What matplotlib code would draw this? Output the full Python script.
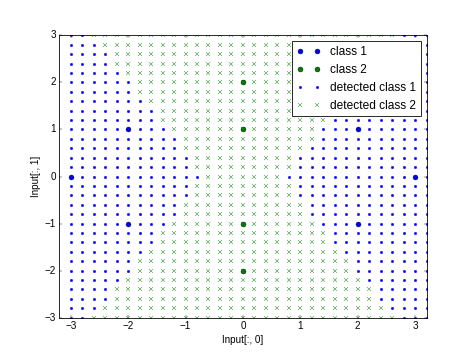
import numpy as np
import matplotlib
matplotlib.use('Agg')
import matplotlib.pyplot as plt

plt.style.use('classic')
plt.rcParams['font.family'] = ['Liberation Sans', 'DejaVu Sans']

# training points
class1_x = [-3, -2, -2, 2, 2, 3]
class1_y = [0, 1, -1, 1, -1, 0]
class2_x = [0, 0, 0, 0]
class2_y = [2, 1, -1, -2]

# evaluation grid
grid_x = [-3.0, -2.8, -2.6, -2.4, -2.2, -2.0, -1.8, -1.6, -1.4, -1.2, -1.0,
          -0.8, -0.6, -0.4, -0.2, 0.0, 0.2, 0.4, 0.6, 0.8, 1.0, 1.2, 1.4,
          1.6, 1.8, 2.0, 2.2, 2.4, 2.6, 2.8, 3.0, 3.2]
grid_y = [3.0, 2.8, 2.6, 2.4, 2.2, 2.0, 1.8, 1.6, 1.4, 1.2, 1.0, 0.8, 0.6,
          0.4, 0.2, 0.0, -0.2, -0.4, -0.6, -0.8, -1.0, -1.2, -1.4, -1.6,
          -1.8, -2.0, -2.2, -2.4, -2.6, -2.8, -3.0]

# per row (same order as grid_y): first and last x detected as class 2
band_left = [-2.6, -2.4, -2.2, -2.2, -2.0, -1.8, -1.8, -1.6, -1.4, -1.4, -1.2,
             -1.0, -1.0, -0.8, -0.8, -0.6, -0.8, -0.8, -1.0, -1.0, -1.2, -1.4,
             -1.4, -1.6, -1.8, -1.8, -2.0, -2.2, -2.2, -2.4, -2.6]
band_right = [2.6, 2.4, 2.2, 2.2, 2.0, 1.8, 1.8, 1.6, 1.4, 1.4, 1.2,
              1.2, 1.0, 0.8, 0.8, 0.6, 0.8, 0.8, 1.0, 1.0, 1.2, 1.4,
              1.4, 1.6, 1.8, 1.8, 2.0, 2.2, 2.2, 2.4, 2.6]

gx = np.array(grid_x)
det1_x, det1_y, det2_x, det2_y = [], [], [], []
for yy, lo, hi in zip(grid_y, band_left, band_right):
    inside = (gx > lo - 0.01) & (gx < hi + 0.01)
    det2_x.extend(gx[inside])
    det2_y.extend([yy] * inside.sum())
    det1_x.extend(gx[~inside])
    det1_y.extend([yy] * (~inside).sum())

dpi = 59.25
fig = plt.figure(figsize=(474 / dpi, 353 / dpi), dpi=dpi, facecolor='w')
ax = fig.add_subplot(111)

h1, = ax.plot(class1_x, class1_y, 'bo', label='class 1', zorder=3)
h2, = ax.plot(class2_x, class2_y, 'go', label='class 2', zorder=3)
h3, = ax.plot(det1_x, det1_y, 'b.', label='detected class 1')
h4, = ax.plot(det2_x, det2_y, 'gx', label='detected class 2')

ax.set_xlim(-3.2, 3.2)
ax.set_ylim(-3, 3)
ax.set_xticks([-3, -2, -1, 0, 1, 2, 3])
ax.set_yticks([-3, -2, -1, 0, 1, 2, 3])
ax.set_xlabel('Input[:, 0]')
ax.set_ylabel('Input[:, 1]')
ax.legend(handles=[h1, h2, h3, h4], loc='upper right', numpoints=2,
          fontsize='large')

fig.savefig('out.png', dpi=dpi, facecolor='w')
